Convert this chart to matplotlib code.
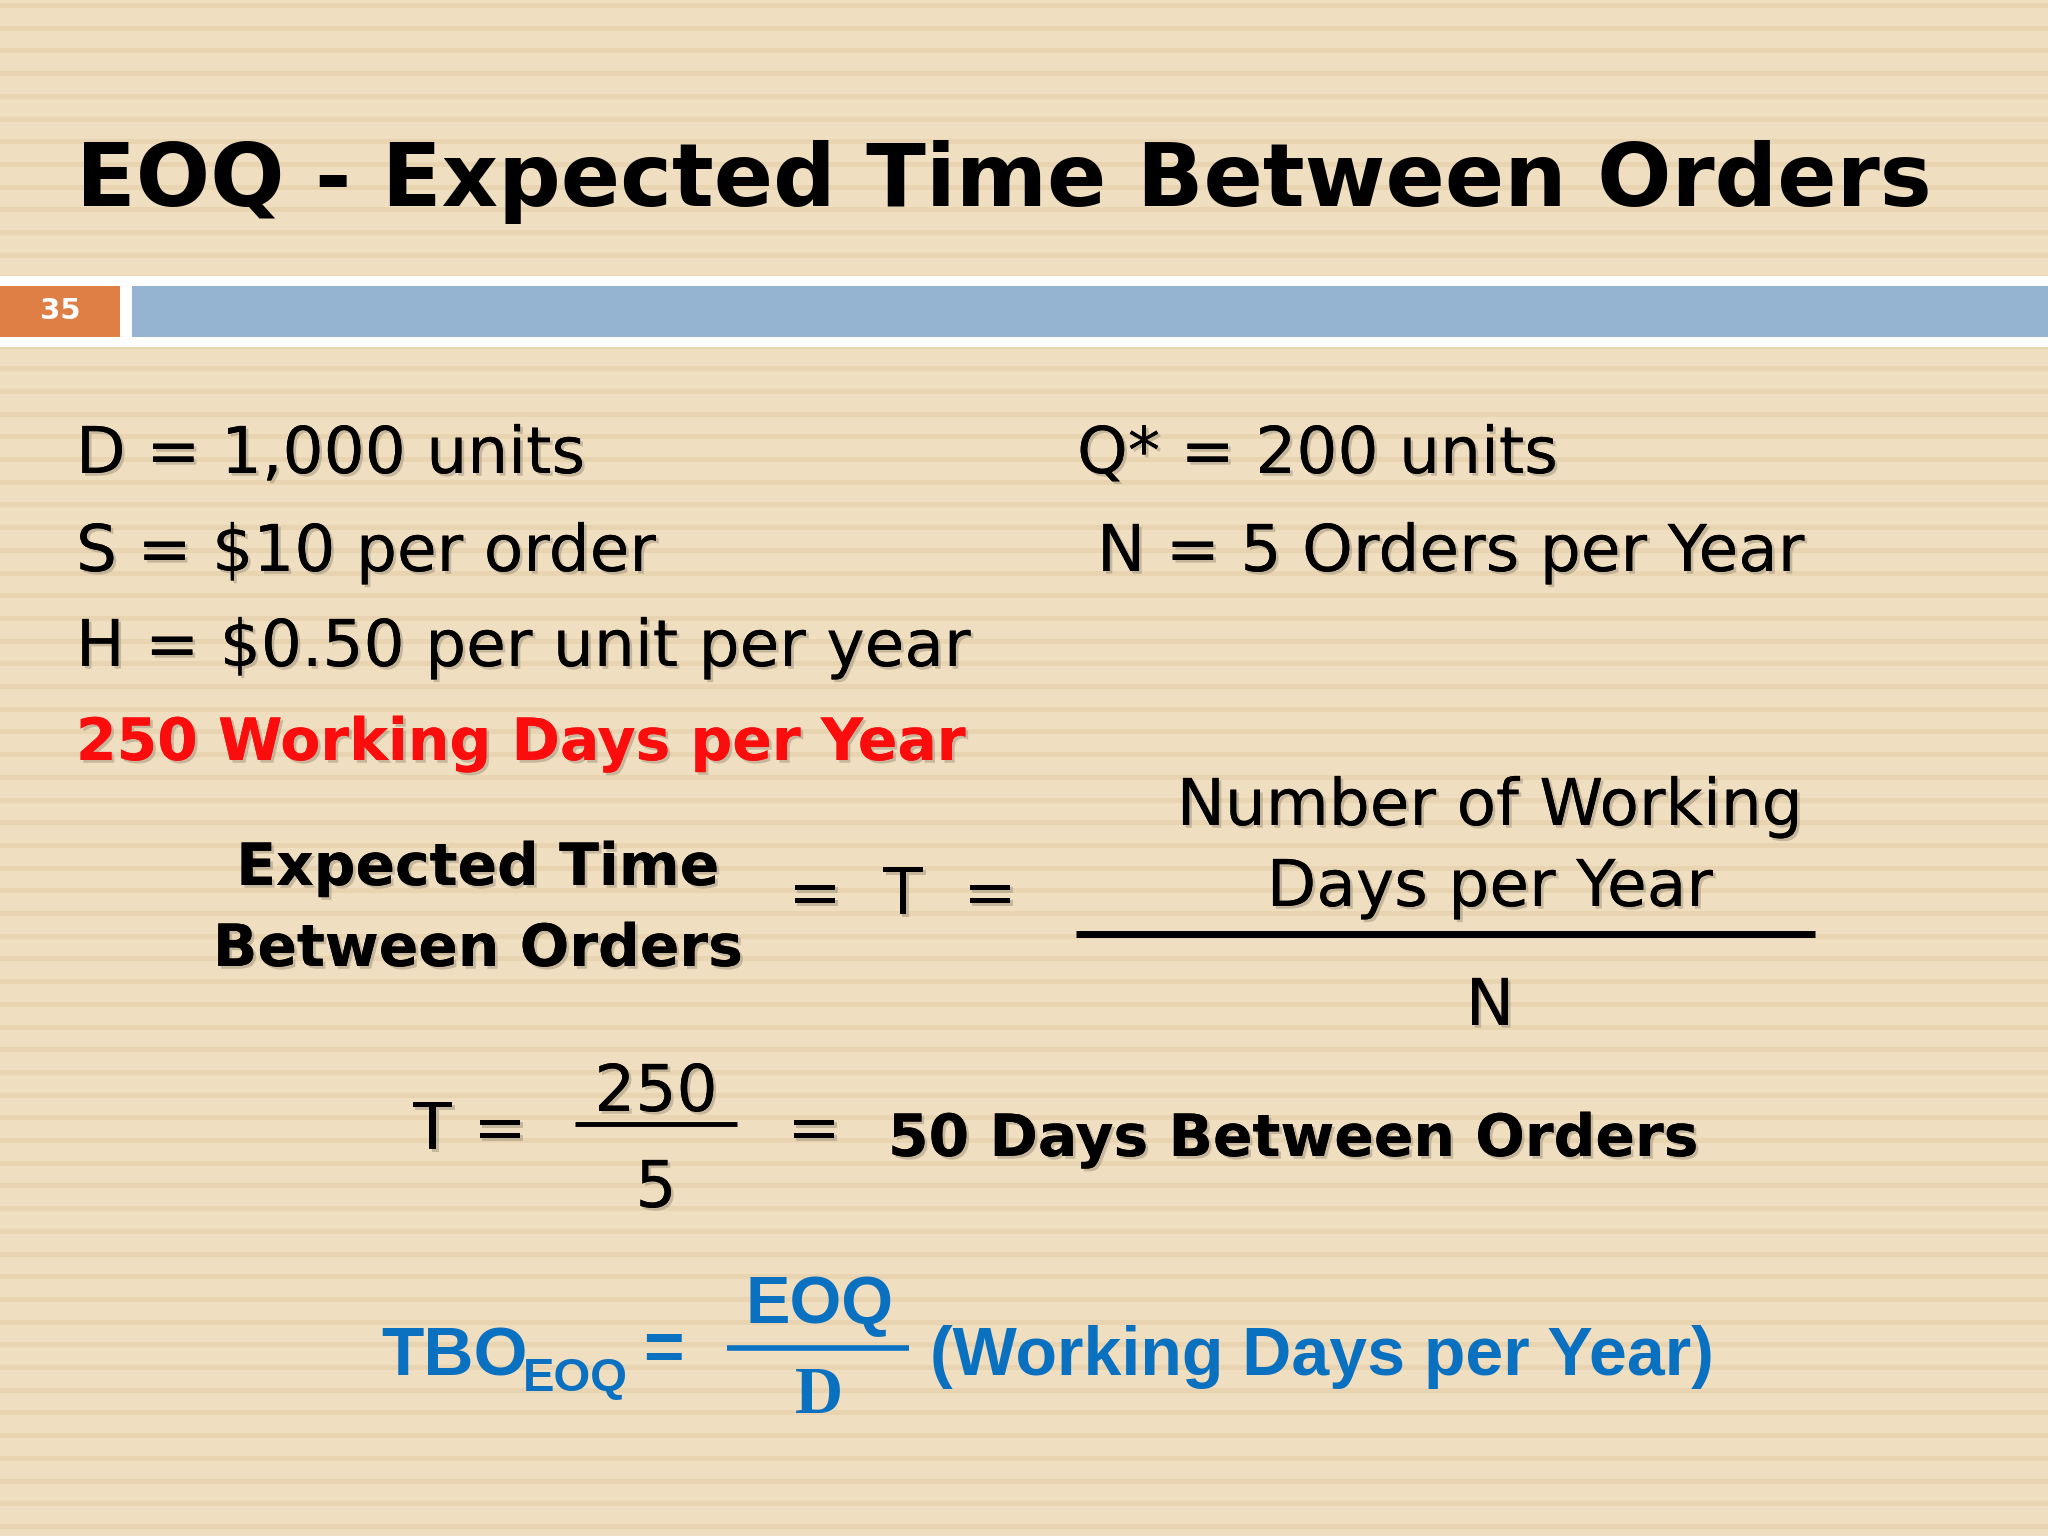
import numpy as np
import matplotlib
matplotlib.use("Agg")
import matplotlib.pyplot as plt
import matplotlib.patheffects as pe

# slide content
title = "EOQ - Expected Time Between Orders"
slide_no = "35"
given_left = ["D = 1,000 units", "S = $10 per order", "H = $0.50 per unit per year"]
given_red = "250 Working Days per Year"
given_right = ["Q* = 200 units", "N = 5 Orders per Year"]
lhs_lines = ["Expected Time", "Between Orders"]
num_lines = ["Number of Working", "Days per Year"]
den = "N"
days, orders = 250, 5
result = "50 Days Between Orders"

BG = "#f0dec0"
STRIPE = "#e8d4b1"
BLUE = "#0a70c0"
RED = "#fc0d0d"
FONT = "DejaVu Sans"
REG = 46.5
BOLD = 42

shadow = [pe.withSimplePatchShadow(offset=(2, -2), shadow_rgbFace="#9c8f7a", alpha=0.5), pe.Normal()]

fig = plt.figure(figsize=(20.48, 15.36), dpi=100)
fig.patch.set_facecolor(BG)
ax = fig.add_axes([0, 0, 1, 1])
ax.set_xlim(0, 2048)
ax.set_ylim(1536, 0)
ax.axis("off")

# striped background
for y in np.arange(3, 1536, 22.7):
    ax.axhspan(y, y + 5, color=STRIPE, lw=0, zorder=0)

# header bar
ax.axhspan(276, 347, color="white", lw=0, zorder=1)
ax.fill_between([0, 120], 286, 337, color="#e07f45", lw=0, zorder=2)
ax.fill_between([132, 2048], 286, 337, color="#95b4d2", lw=0, zorder=2)
ax.text(60, 311, slide_no, color="white", fontsize=21, fontweight="bold",
        family=FONT, ha="center", va="center", zorder=3)

ax.text(76, 206, title, fontsize=63, fontweight="bold", family=FONT,
        va="baseline", color="black")

def t(x, y, s, **kw):
    kw.setdefault("fontsize", REG)
    kw.setdefault("family", FONT)
    kw.setdefault("va", "baseline")
    kw.setdefault("color", "black")
    return ax.text(x, y, s, path_effects=shadow, **kw)

for y, s in zip([473, 571, 666], given_left):
    t(76, y, s)
t(76, 760, given_red, color=RED, fontweight="bold", fontsize=BOLD)
t(1077, 473, given_right[0])
t(1097, 571, given_right[1])

# T definition
t(478, 885, lhs_lines[0], ha="center", fontweight="bold", fontsize=BOLD)
t(478, 966, lhs_lines[1], ha="center", fontweight="bold", fontsize=BOLD)
t(815, 896, "=", ha="center", va="center")
t(903, 896, "T", ha="center", va="center")
t(990, 896, "=", ha="center", va="center")
t(1490, 825, num_lines[0], ha="center")
t(1490, 906, num_lines[1], ha="center")
ax.plot([1076, 1815], [934, 934], color="black", lw=5, solid_capstyle="butt")
t(1490, 1025, den, ha="center")

# numeric example
t(470, 1131, "T =", ha="center", va="center")
t(656, 1111, str(days), ha="center")
ax.plot([575, 737], [1124, 1124], color="black", lw=3.5, solid_capstyle="butt")
t(656, 1207, str(orders), ha="center")
t(814, 1131, "=", ha="center", va="center")
t(888, 1156, result, fontweight="bold", fontsize=BOLD)

# TBO formula
ax.text(381, 1375, "TBO", color=BLUE, fontsize=50, fontweight="bold",
        family="Liberation Sans", va="baseline")
ax.text(523, 1391, "EOQ", color=BLUE, fontsize=34, fontweight="bold",
        family="Liberation Sans", va="baseline")
ax.text(663, 1352, "=", color=BLUE, fontsize=50, fontweight="bold",
        family="Liberation Sans", va="center", ha="center")
ax.text(819, 1323, "EOQ", color=BLUE, fontsize=48, fontweight="bold",
        family="Liberation Sans", va="baseline", ha="center")
ax.plot([727, 909], [1348, 1348], color=BLUE, lw=4, solid_capstyle="butt")
ax.text(819, 1413, "D", color=BLUE, fontsize=48, fontweight="bold",
        family="Liberation Serif", va="baseline", ha="center")
ax.text(930, 1375, "(Working Days per Year)", color=BLUE, fontsize=49,
        fontweight="bold", family="Liberation Sans", va="baseline")

fig.savefig("out.png", dpi=100, facecolor=BG)
